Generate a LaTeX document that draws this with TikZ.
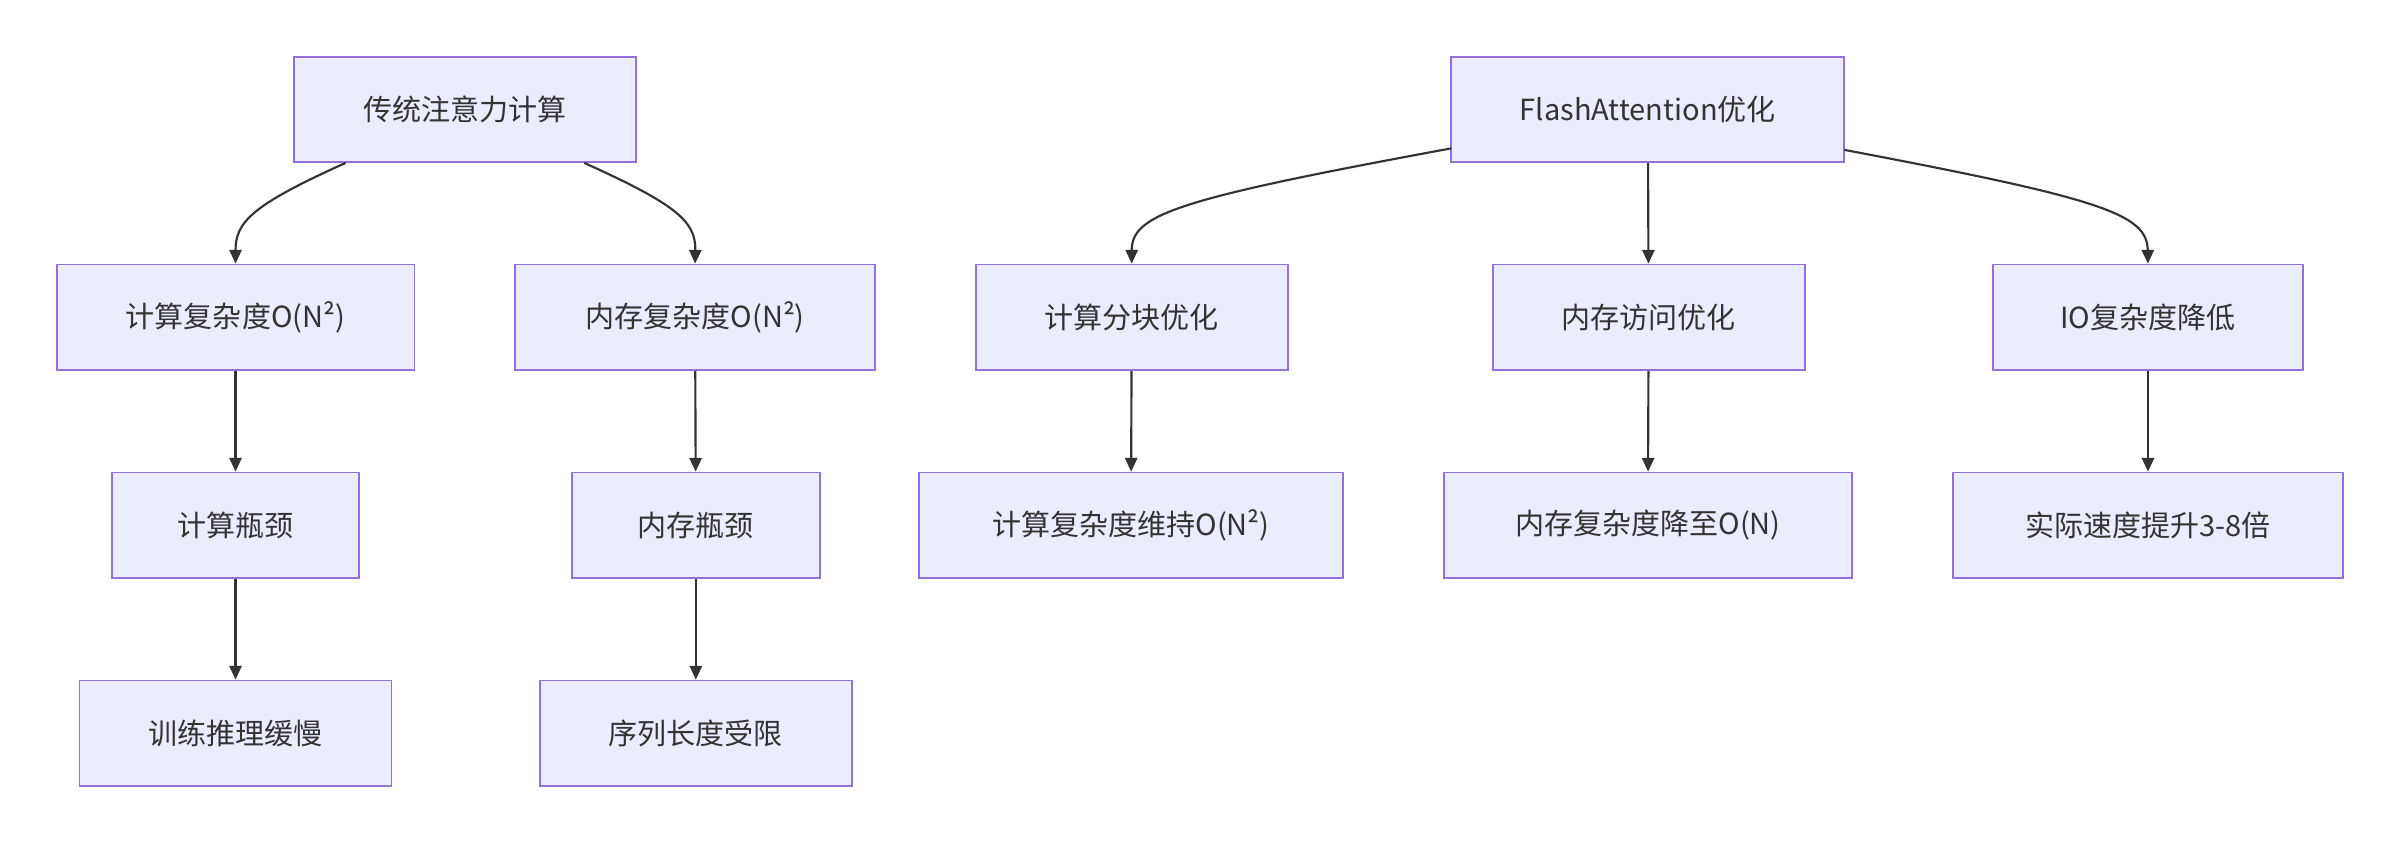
\documentclass[tikz,border=0pt]{standalone}
\usepackage{fontspec}
\setmainfont{Noto Sans CJK SC}
\usetikzlibrary{arrows.meta}
\definecolor{boxfill}{HTML}{ECECFF}
\definecolor{boxline}{HTML}{9370DB}
\definecolor{edge}{HTML}{333333}
\tikzset{
  box/.style={draw=boxline, fill=boxfill, line width=1.2pt, minimum height=69pt,
    font=\fontsize{19}{23}\selectfont, text=edge, inner sep=0pt},
  link/.style={draw=edge, line width=1.4pt, -{Triangle[length=9pt,width=8pt]}}
}
\begin{document}
\begin{tikzpicture}[x=1pt,y=-1pt]
\useasboundingbox (0,0) rectangle (1568,552);
% left tree
\node[box, minimum width=224pt] (trad) at (304,71.5) {传统注意力计算};
\node[box, minimum width=234pt] (compc) at (154,207.5) {计算复杂度O(N²)};
\node[box, minimum width=235pt] (memc) at (454.5,207.5) {内存复杂度O(N²)};
\node[box, minimum width=162pt] (compb) at (154,343.5) {计算瓶颈};
\node[box, minimum width=162pt] (memb) at (455,343.5) {内存瓶颈};
\node[box, minimum width=204pt] (slow) at (154,479.5) {训练推理缓慢};
\node[box, minimum width=204pt] (seq) at (455,479.5) {序列长度受限};
% right tree
\node[box, minimum width=257pt] (flash) at (1077.5,71.5) {FlashAttention优化};
\node[box, minimum width=204pt] (tile) at (740,207.5) {计算分块优化};
\node[box, minimum width=204pt] (access) at (1078,207.5) {内存访问优化};
\node[box, minimum width=203pt] (io) at (1404.5,207.5) {IO复杂度降低};
\node[box, minimum width=277pt] (keep) at (739.5,343.5) {计算复杂度维持O(N²)};
\node[box, minimum width=267pt] (lin) at (1077.5,343.5) {内存复杂度降至O(N)};
\node[box, minimum width=255pt] (speed) at (1404.5,343.5) {实际速度提升3-8倍};
\coordinate (t1) at (226,106.5);
\coordinate (t2) at (382,106.5);
\coordinate (f1) at (949,97);
\coordinate (f2) at (1206,98);
\draw[link] (t1) .. controls (165,134) and (154,145) .. (compc.north);
\draw[link] (t2) .. controls (443,134) and (455,145) .. (memc.north);
\draw[link] (compc) -- (compb);
\draw[link] (memc) -- (memb);
\draw[link] (compb) -- (slow);
\draw[link] (memb) -- (seq);
\draw[link] (f1) .. controls (770,130) and (740,140) .. (tile.north);
\draw[link] (flash) -- (access);
\draw[link] (f2) .. controls (1375,130) and (1404,140) .. (io.north);
\draw[link] (tile) -- (keep);
\draw[link] (access) -- (lin);
\draw[link] (io) -- (speed);
\end{tikzpicture}
\end{document}
